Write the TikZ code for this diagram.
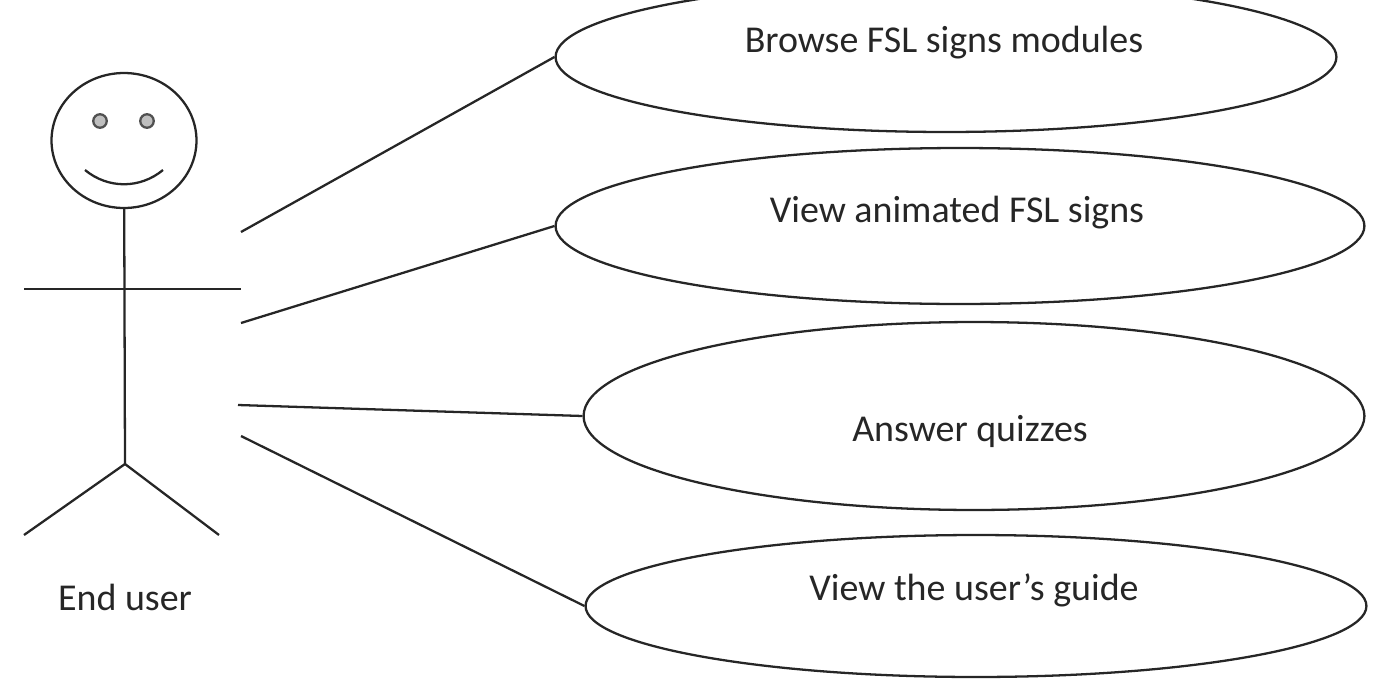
\documentclass[tikz,border=0pt]{standalone}
\usepackage{fontspec}
\usepackage{xcolor}
\setmainfont{Carlito}
\usetikzlibrary{shapes.geometric}
\definecolor{inkgray}{HTML}{262626}
\tikzset{
    usecase/.style={ellipse, draw=inkgray, line width=1.3pt, inner sep=0pt},
    usetext/.style={text=inkgray, font=\fontsize{21.6}{26}\selectfont},
    eyedot/.style={circle, draw=inkgray!80, fill=gray!50, line width=1.3pt, minimum size=0.27cm, inner sep=0pt},
    limb/.style={draw=inkgray, line width=1.3pt}
}
\begin{document}
\begin{tikzpicture}[x=0.02cm, y=-0.02cm]
    \useasboundingbox (0,0) rectangle (1373,690);
    \clip (0,0) rectangle (1373,690);
    % Actor
    \node[ellipse, draw=inkgray, line width=1.3pt, minimum width=2.9cm, minimum height=2.7cm, inner sep=0pt] (head) at (124,140.5) {};
    \node[eyedot] (eyeL) at (100,121) {};
    \node[eyedot] (eyeR) at (147,121) {};
    \draw[limb] (85,170) .. controls (108,189) and (140,189) .. (163,170);
    \coordinate (hip) at (125,464);
    \coordinate (armL) at (24,289);
    \coordinate (armR) at (241,289);
    \coordinate (footL) at (24,535);
    \coordinate (footR) at (219,535);
    \draw[limb] (head) -- (hip);
    \draw[limb] (armL) -- (armR);
    \draw[limb] (footL) -- (hip) -- (footR);
    \node[usetext] (actor) at (125,597) {End user};

    % Use cases
    \node[usecase, minimum width=15.62cm, minimum height=3cm] (browse) at (946,57) {};
    \node[usecase, minimum width=16.18cm, minimum height=3.12cm] (view) at (960,226) {};
    \node[usecase, minimum width=15.62cm, minimum height=3.76cm] (quiz) at (974,416) {};
    \node[usecase, minimum width=15.62cm, minimum height=2.84cm] (guide) at (976,606) {};
    \node[usetext] (browseText) at (944,43) {Browse FSL signs modules};
    \node[usetext] (viewText) at (957,213) {View animated FSL signs};
    \node[usetext] (quizText) at (970,431) {Answer quizzes};
    \node[usetext] (guideText) at (974,590) {View the user's guide};

    % Connectors
    \coordinate (linkA) at (241,232);
    \coordinate (linkB) at (241,323);
    \coordinate (linkC) at (238,405);
    \coordinate (linkD) at (241,436);
    \draw[limb] (linkA) -- (browse.west);
    \draw[limb] (linkB) -- (view.west);
    \draw[limb] (linkC) -- (quiz.west);
    \draw[limb] (linkD) -- (guide.west);
\end{tikzpicture}
\end{document}
